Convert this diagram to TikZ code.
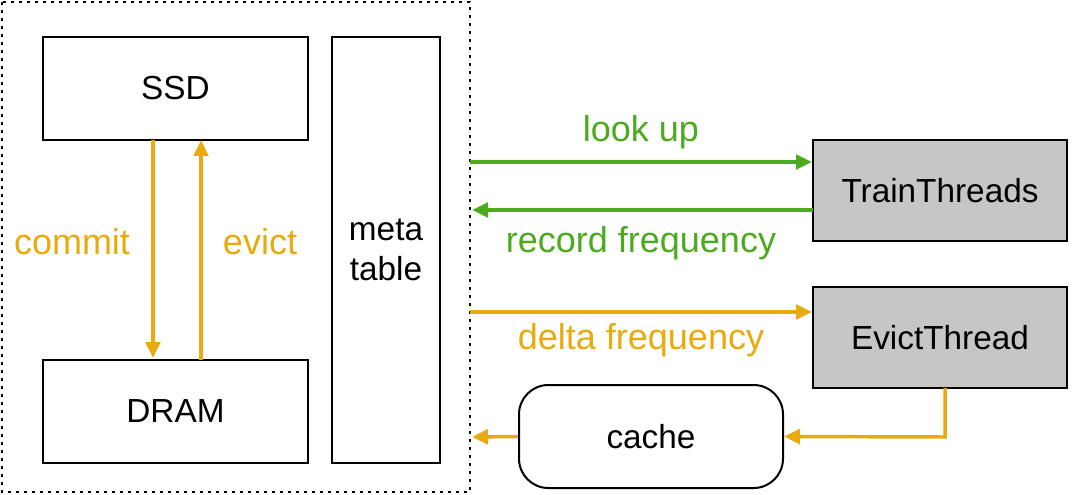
\documentclass[tikz,border=0pt]{standalone}
\usepackage{fontspec}
\setmainfont{Liberation Sans}
\usetikzlibrary{arrows.meta}
\definecolor{gr}{HTML}{4CAA1E}
\definecolor{og}{HTML}{E9AA0E}
\begin{document}
\begin{tikzpicture}[x=0.75pt,y=-0.75pt,
 box/.style={draw,line width=1.5pt,inner sep=0pt},
 gbox/.style={box,fill=gray!45},
 txt/.style={font=\fontsize{25}{30}\selectfont},
 lab/.style={font=\fontsize{27}{32}\selectfont},
 ga/.style={gr,line width=2.6pt,-{Triangle[length=12pt,width=11pt]}},
 oa/.style={og,line width=2.6pt,-{Triangle[length=12pt,width=11pt]}}]
\useasboundingbox (0,0) rectangle (1080,495);
\draw[line width=2pt,dash pattern=on 2pt off 4pt] (2,2) rectangle (470,492);
\node[box,minimum width=265*0.75pt,minimum height=103*0.75pt,txt] (ssd) at (175.5,88.5) {SSD};
\node[box,minimum width=265*0.75pt,minimum height=103*0.75pt,txt] (dram) at (175.5,411.5) {DRAM};
\node[box,minimum width=108*0.75pt,minimum height=426*0.75pt,txt,align=center] (meta) at (386,250) {meta\\table};
\node[gbox,minimum width=254*0.75pt,minimum height=101*0.75pt,txt] (train) at (940,190.5) {TrainThreads};
\node[gbox,minimum width=254*0.75pt,minimum height=101*0.75pt,txt] (evt) at (940,337.5) {EvictThread};
\node[box,rounded corners=22pt,minimum width=264*0.75pt,minimum height=103*0.75pt,txt] (cache) at (651,436.5) {cache};
\coordinate (c1) at (153,140); \coordinate (c2) at (153,358);
\coordinate (e1) at (201,360); \coordinate (e2) at (201,140);
\draw[oa] (c1) -- (c2);
\draw[oa] (e1) -- (e2);
\node[lab,og] (lc) at (72,242) {commit};
\node[lab,og] (le) at (260,242) {evict};
\coordinate (l1) at (470,162); \coordinate (l2) at (812,162);
\draw[ga] (l1) -- (l2);
\node[lab,gr] (ll) at (641,132) {look up};
\coordinate (r1) at (813,210); \coordinate (r2) at (472,210);
\draw[ga] (r1) -- (r2);
\node[lab,gr] (lr) at (641,243) {record frequency};
\coordinate (d1) at (470,312); \coordinate (d2) at (812,312);
\draw[oa] (d1) -- (d2);
\node[lab,og] (ld) at (641,340) {delta frequency};
\coordinate (m1) at (472,437);
\draw[oa] (cache.west) -- (m1);
\coordinate (k1) at (945,388); \coordinate (k2) at (945,437);
\draw[oa] (k1) -- (k2) -- (cache.east);
\end{tikzpicture}
\end{document}
